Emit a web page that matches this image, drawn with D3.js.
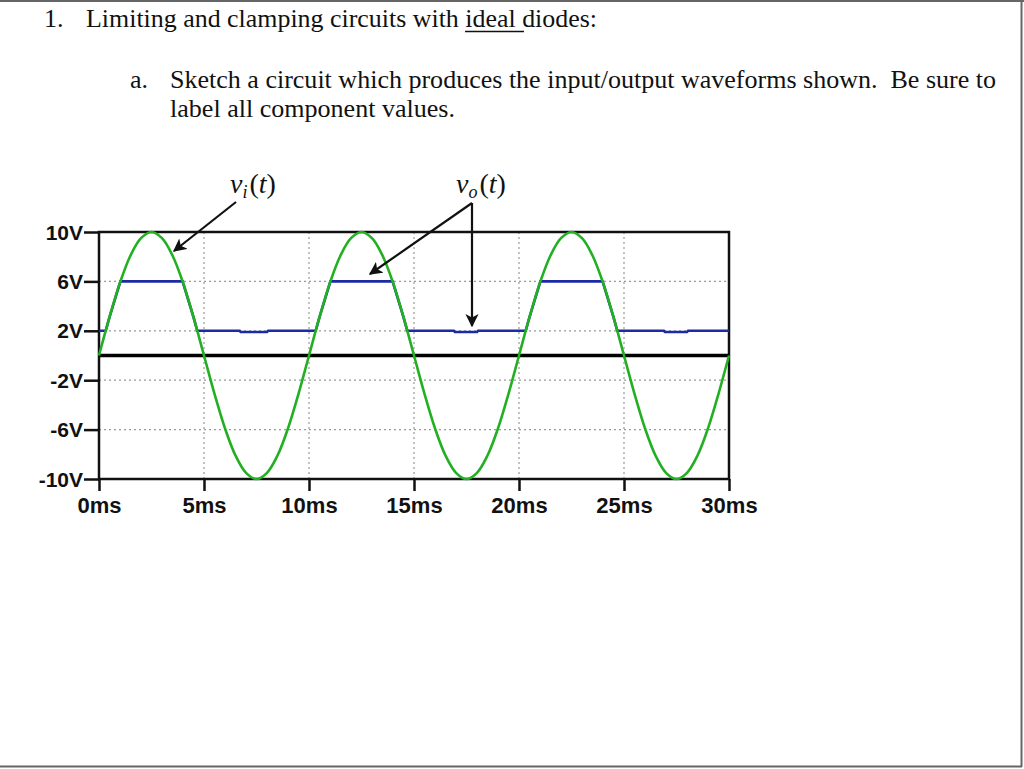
<!DOCTYPE html>
<html><head><meta charset="utf-8">
<script src="https://cdn.jsdelivr.net/npm/d3@7"></script>
<style>
html,body{margin:0;padding:0;background:#fff;}
text{white-space:pre;}
</style></head>
<body>
<svg id="c" width="1024" height="769"></svg>
<script>
// ---- data ----
const timeMs = [0,0.5,1,1.5,2,2.5,3,3.5,4,4.5,5,5.5,6,6.5,7,7.5,8,8.5,9,9.5,
  10,10.5,11,11.5,12,12.5,13,13.5,14,14.5,15,15.5,16,16.5,17,17.5,18,18.5,19,19.5,
  20,20.5,21,21.5,22,22.5,23,23.5,24,24.5,25,25.5,26,26.5,27,27.5,28,28.5,29,29.5,30];
const vIn = [0,3.1,5.9,8.1,9.5,10,9.5,8.1,5.9,3.1,0,-3.1,-5.9,-8.1,-9.5,-10,-9.5,-8.1,-5.9,-3.1,
  0,3.1,5.9,8.1,9.5,10,9.5,8.1,5.9,3.1,0,-3.1,-5.9,-8.1,-9.5,-10,-9.5,-8.1,-5.9,-3.1,
  0,3.1,5.9,8.1,9.5,10,9.5,8.1,5.9,3.1,0,-3.1,-5.9,-8.1,-9.5,-10,-9.5,-8.1,-5.9,-3.1,0];
const outTime = [0,0.32,0.5,1.02,3.98,4.5,4.68,6.7,6.75,8.0,8.05,10,
  10.32,10.5,11.02,13.98,14.5,14.68,16.9,16.95,18.0,18.05,20,
  20.32,20.5,21.02,23.98,24.5,24.68,26.9,26.95,28.0,28.05,30];
const vOut = [2,2,3.1,6,6,3.1,2,2,1.9,1.9,2,2,
  2,3.1,6,6,3.1,2,2,1.9,1.9,2,2,
  2,3.1,6,6,3.1,2,2,1.9,1.9,2,2];
const xTicks = [0,5,10,15,20,25,30];
const xTickLabels = ["0ms","5ms","10ms","15ms","20ms","25ms","30ms"];
const yTicks = [10,6,2,-2,-6,-10];
const yTickLabels = ["10V","6V","2V","-2V","-6V","-10V"];
const titleNum = "1.";
const titleText = "Limiting and clamping circuits with ideal diodes:";
const partLetter = "a.";
const partLines = ["Sketch a circuit which produces the input/output waveforms shown.  Be sure to",
                   "label all component values."];

// ---- drawing ----
const svg = d3.select("#c");
const x = d3.scaleLinear().domain([0,30]).range([99,729]);
const y = d3.scaleLinear().domain([-10,10]).range([479,232]);

// page border
svg.append("line").attr("x1",0).attr("x2",1024).attr("y1",1).attr("y2",1).attr("stroke","#666").attr("stroke-width",2);
svg.append("line").attr("x1",1021.5).attr("x2",1021.5).attr("y1",0).attr("y2",767).attr("stroke","#666").attr("stroke-width",2);
svg.append("line").attr("x1",0).attr("x2",1022).attr("y1",766.5).attr("y2",766.5).attr("stroke","#666").attr("stroke-width",2);

const serif = "'Liberation Serif','Times New Roman',serif";
// title
svg.append("text").attr("x",44).attr("y",27).attr("font-family",serif).attr("font-size",26)
  .attr("fill","#111").text(titleNum);
svg.append("text").attr("x",86).attr("y",27).attr("font-family",serif).attr("font-size",25)
  .attr("fill","#111").attr("textLength",511).attr("lengthAdjust","spacingAndGlyphs").text(titleText);
svg.append("line").attr("x1",465).attr("x2",524).attr("y1",31.5).attr("y2",31.5).attr("stroke","#111").attr("stroke-width",1.5);

svg.append("text").attr("x",130).attr("y",88).attr("font-family",serif).attr("font-size",26)
  .attr("fill","#111").text(partLetter);
svg.append("text").attr("x",170).attr("y",88).attr("font-family",serif).attr("font-size",25)
  .attr("fill","#111").attr("textLength",826).attr("lengthAdjust","spacingAndGlyphs").text(partLines[0]);
svg.append("text").attr("x",170).attr("y",117).attr("font-family",serif).attr("font-size",25)
  .attr("fill","#111").attr("textLength",285).attr("lengthAdjust","spacingAndGlyphs").text(partLines[1]);

// grid
const g = svg.append("g");
g.selectAll("line.vg").data(xTicks.filter(d=>d>0&&d<30)).enter().append("line")
  .attr("x1",d=>x(d)).attr("x2",d=>x(d)).attr("y1",y(10)).attr("y2",y(-10))
  .attr("stroke","#999").attr("stroke-width",1.2).attr("stroke-dasharray","2,3");
g.selectAll("line.hg").data(yTicks.filter(d=>d>-10&&d<10)).enter().append("line")
  .attr("x1",x(0)).attr("x2",x(30)).attr("y1",d=>y(d)).attr("y2",d=>y(d))
  .attr("stroke","#999").attr("stroke-width",1.2).attr("stroke-dasharray","2,3");

// frame
svg.append("rect").attr("x",x(0)).attr("y",y(10)).attr("width",x(30)-x(0)).attr("height",y(-10)-y(10))
  .attr("fill","none").attr("stroke","#111").attr("stroke-width",2.5);

// axes
const yAxis = d3.axisLeft(y).tickValues(yTicks).tickFormat((d,i)=>yTickLabels[i]).tickSize(15).tickPadding(1);
const ya = svg.append("g").attr("transform",`translate(${x(0)},0)`).call(yAxis);
ya.select(".domain").remove();
ya.selectAll("line").attr("stroke","#111").attr("stroke-width",2.5);
ya.selectAll("text").attr("font-family","'Liberation Sans',Arial,sans-serif").attr("font-weight","bold")
  .attr("font-size",21).attr("fill","#111").attr("dy","0.34em");
const xAxis = d3.axisBottom(x).tickValues(xTicks).tickFormat((d,i)=>xTickLabels[i]).tickSize(12).tickPadding(6);
const xa = svg.append("g").attr("transform",`translate(0,${y(-10)})`).call(xAxis);
xa.select(".domain").remove();
xa.selectAll("line").attr("stroke","#111").attr("stroke-width",2.5);
xa.selectAll("text").attr("font-family","'Liberation Sans',Arial,sans-serif").attr("font-weight","bold")
  .attr("font-size",22).attr("fill","#111");

// zero line
svg.append("line").attr("x1",x(0)).attr("x2",x(30)).attr("y1",y(0)).attr("y2",y(0))
  .attr("stroke","#000").attr("stroke-width",3.5);

// output (blue)
const outPts = outTime.map((t,i)=>[t,vOut[i]]);
svg.append("path").datum(outPts)
  .attr("d",d3.line().x(d=>x(d[0])).y(d=>y(d[1])))
  .attr("fill","none").attr("stroke","#1c2aa6").attr("stroke-width",2.6);
// input (green)
const inPts = timeMs.map((t,i)=>[t,vIn[i]]);
svg.append("path").datum(inPts)
  .attr("d",d3.line().x(d=>x(d[0])).y(d=>y(d[1])).curve(d3.curveCatmullRom))
  .attr("fill","none").attr("stroke","#22b022").attr("stroke-width",2.6);

// arrows
const defs = svg.append("defs");
defs.append("marker").attr("id","ah").attr("viewBox","0 0 10 10").attr("refX",9).attr("refY",5)
  .attr("markerWidth",6).attr("markerHeight",6).attr("markerUnits","strokeWidth").attr("orient","auto")
  .append("path").attr("d","M0,0 L10,5 L0,10 L2.5,5 z").attr("fill","#111");
function arrow(x1,y1,x2,y2){
  svg.append("line").attr("x1",x1).attr("y1",y1).attr("x2",x2).attr("y2",y2)
    .attr("stroke","#111").attr("stroke-width",2.2).attr("marker-end","url(#ah)");
}
arrow(236,202,174,251);
arrow(472,203,370,274);
arrow(472,203,472,326);

// math labels
const mfont = "'Liberation Serif','DejaVu Serif',serif";
function mathLabel(xp,yp,sub){
  const t = svg.append("text").attr("x",xp).attr("y",yp).attr("font-family",mfont).attr("font-size",28).attr("fill","#111");
  t.append("tspan").attr("font-style","italic").text("v");
  t.append("tspan").attr("font-style","italic").attr("font-size",18).attr("dy",5).text(sub);
  t.append("tspan").attr("dy",-5).attr("dx",2).text("(");
  t.append("tspan").attr("font-style","italic").text("t");
  t.append("tspan").text(")");
}
mathLabel(230,193,"i");
mathLabel(456,193,"o");
</script>
</body></html>
